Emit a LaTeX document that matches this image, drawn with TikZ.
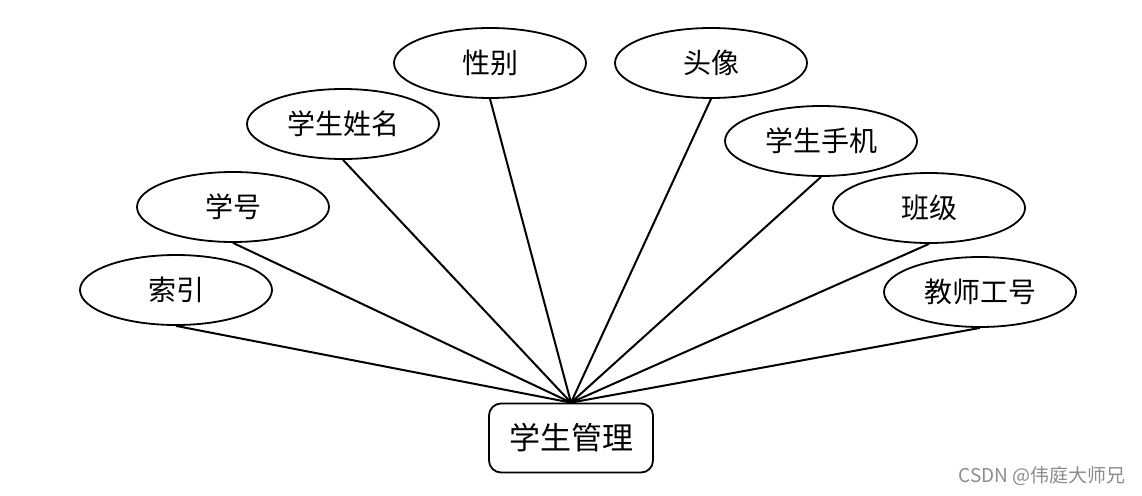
\documentclass[tikz,border=0pt]{standalone}
\usepackage{fontspec}
\setmainfont{Noto Sans CJK SC}
\newfontfamily\wmfont{Noto Sans CJK SC}
\usetikzlibrary{shapes.geometric}
\begin{document}
\begin{tikzpicture}[x=1pt,y=-1pt,
  attr/.style={draw=black,line width=1.8pt,ellipse,minimum width=192pt,minimum height=70pt,inner sep=0pt,font=\fontsize{28}{30}\selectfont},
  entity/.style={draw=black,line width=1.8pt,rounded corners=12pt,minimum width=164pt,minimum height=69pt,inner sep=0pt,font=\fontsize{31}{34}\selectfont},
  link/.style={line width=2pt}]
\useasboundingbox (0,0) rectangle (1142,495);
\node[entity] (m) at (571,438) {学生管理};
\node[attr] (a1) at (176,290) {索引};
\node[attr] (a2) at (233,207) {学号};
\node[attr] (a3) at (343,124) {学生姓名};
\node[attr] (a4) at (490,63) {性别};
\node[attr] (a5) at (711,63) {头像};
\node[attr] (a6) at (821,141) {学生手机};
\node[attr] (a7) at (929,208) {班级};
\node[attr] (a8) at (980,292) {教师工号};
\foreach \i in {1,...,8} \draw[link] (a\i.south) -- (m.north);
\node[font=\wmfont\fontsize{19}{22}\selectfont,text=black!45,anchor=east] (wm) at (1129,476) {CSDN @伟庭大师兄};
\end{tikzpicture}
\end{document}
